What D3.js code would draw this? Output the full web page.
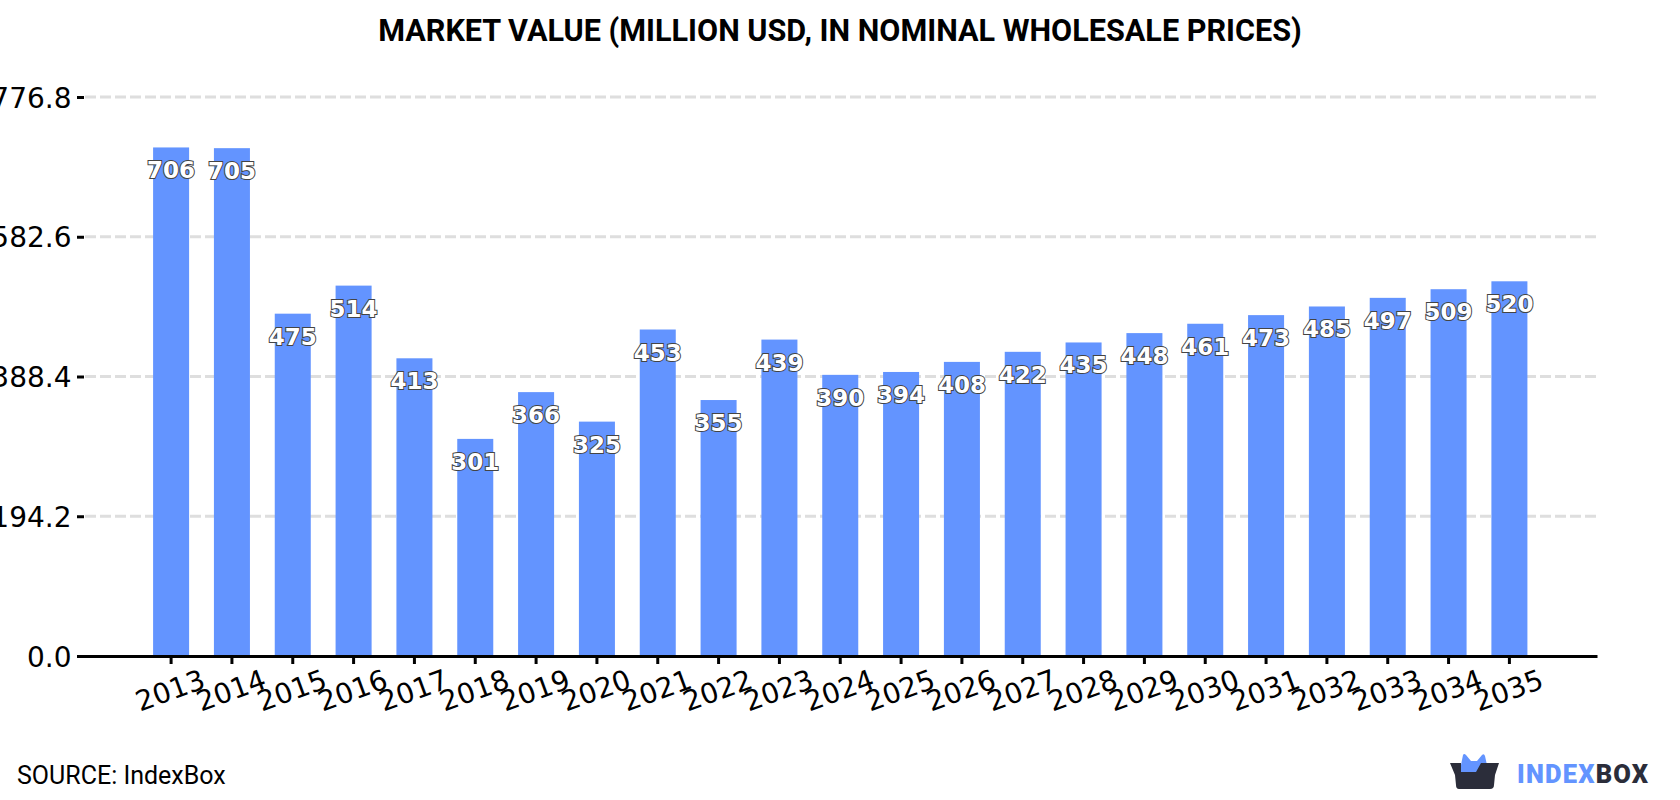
<!DOCTYPE html>
<html>
<head>
<meta charset="utf-8">
<script src="https://cdn.jsdelivr.net/npm/d3@7/dist/d3.min.js"></script>
<style>
html,body{margin:0;padding:0;background:#fff;overflow:hidden}
svg{display:block}
.axis-label{font-family:"DejaVu Sans",sans-serif;fill:#000}
.y-label{font-size:28px}
.x-label{font-size:28px}
.bar-label{font-family:"DejaVu Sans",sans-serif;font-weight:700;font-size:23px;fill:#fff;stroke:#444;stroke-width:2px;paint-order:stroke;text-anchor:middle}
</style>
</head>
<body>
<svg id="chart" width="1680" height="800"></svg>
<script>
const years = d3.range(2013, 2036).map(String);
const marketValue = [706,705,475,514,413,301,366,325,453,355,439,390,394,408,422,435,448,461,473,485,497,509,520];
const yTicks = [0, 194.2, 388.4, 582.6, 776.8];
const titleText = "MARKET VALUE (MILLION USD, IN NOMINAL WHOLESALE PRICES)";
const sourceText = "SOURCE: IndexBox";

const svg = d3.select("#chart");
const plotLeft = 83.5, plotRight = 1597, plotTop = 96.5, plotBottom = 655.5;

const x = d3.scaleBand().domain(years).range([plotLeft, plotRight]).paddingInner(0.408).paddingOuter(1.144);
const y = d3.scaleLinear().domain([0, 776.8]).range([plotBottom, plotTop]);

// Title
svg.append("text").attr("x", 840).attr("y", 41).attr("text-anchor", "middle")
  .style("font-family", "Roboto, sans-serif").style("font-weight", 700).style("font-size", "30.6px")
  .text(titleText);

// Dashed horizontal gridlines above the baseline
svg.append("g").attr("transform", "translate(0,0.5)").selectAll("line").data(yTicks.slice(1)).join("line")
  .attr("x1", plotLeft + 1.5).attr("x2", plotRight)
  .attr("y1", d => y(d)).attr("y2", d => y(d))
  .attr("stroke", "#dedede").attr("stroke-width", 3).attr("stroke-dasharray", "11 4");

// Bars
svg.append("g").selectAll("rect").data(marketValue).join("rect")
  .attr("x", (d, i) => x(years[i])).attr("width", x.bandwidth())
  .attr("y", d => y(d)).attr("height", d => y(0) - y(d))
  .attr("fill", "#6394ff");

// Value labels inside the top of each bar
svg.append("g").selectAll("text").data(marketValue).join("text")
  .attr("class", "bar-label")
  .attr("x", (d, i) => x(years[i]) + x.bandwidth() / 2)
  .attr("y", d => y(d) + 31)
  .text(d => d);

// Left axis
const yAxis = svg.append("g").attr("transform", `translate(${plotLeft + 0.5},0.5)`)
  .call(d3.axisLeft(y).tickValues(yTicks).tickFormat(d3.format(".1f")).tickSize(7).tickPadding(5.5));
yAxis.select(".domain").remove();
yAxis.selectAll("line").attr("stroke", "#000").attr("stroke-width", 3);
yAxis.selectAll("text").attr("class", "axis-label y-label").attr("dy", "0.36em");

// Bottom axis with slanted year labels
const xAxis = svg.append("g").attr("transform", `translate(0,${plotBottom + 0.5})`)
  .call(d3.axisBottom(x).tickSize(8).tickSizeOuter(0).tickPadding(8));
xAxis.select(".domain").attr("stroke", "#000").attr("stroke-width", 3);
xAxis.selectAll("line").attr("stroke", "#000").attr("stroke-width", 3);
xAxis.selectAll("text").attr("class", "axis-label x-label")
  .attr("text-anchor", "middle")
  .attr("transform", "translate(-1,34) rotate(-20)")
  .attr("y", 0).attr("dy", "0.36em");

// Source line
svg.append("text").attr("x", 17).attr("y", 784)
  .style("font-family", "Roboto, sans-serif").style("font-size", "25px")
  .text(sourceText);

// Brand mark
const logo = svg.append("g");
logo.append("path").attr("fill", "#6394ff")
  .attr("d", "M1461 765 L1463 755 Q1464 753 1466 755 L1471 761 L1477 761 L1482 755 Q1484 753 1485 756 L1487 765 L1480 772 L1461 772 Z");
logo.append("path").attr("fill", "#2b2d3a")
  .attr("d", "M1450 763 L1461 763 L1461 772 L1476 772 L1481 763 L1499 763 L1495 775 L1494 785 Q1494 789 1490 789 L1459 789 Q1456 789 1456 785 L1455 775 Z");
svg.append("text").attr("x", 1517).attr("y", 783)
  .style("font-family", "Roboto, sans-serif").style("font-weight", 900).style("font-size", "25.5px").style("letter-spacing", "1.2px")
  .call(t => {
    t.append("tspan").attr("fill", "#6394ff").text("INDEX");
    t.append("tspan").attr("fill", "#2b2d3a").text("BOX");
  });
</script>
</body>
</html>
